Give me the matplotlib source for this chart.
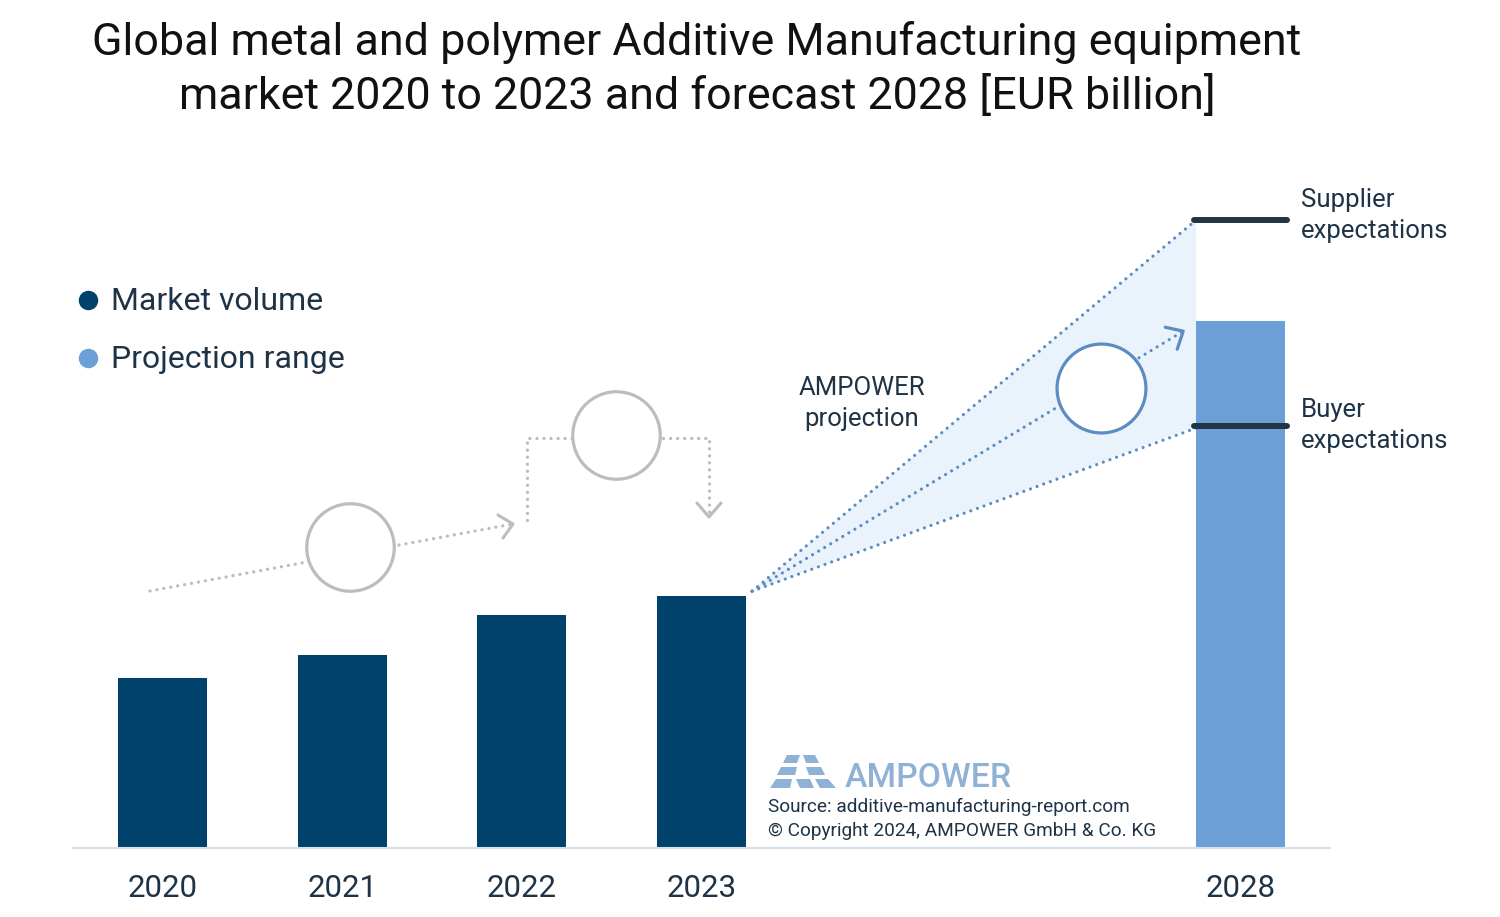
import matplotlib
matplotlib.use("Agg")
import matplotlib.pyplot as plt
from matplotlib.patches import Polygon

plt.rcParams['font.family'] = ['Roboto', 'DejaVu Sans']

# ---- data ----
years = ["2020", "2021", "2022", "2023", "2028"]
positions = [0, 1, 2, 3, 6]
market_volume = [2.13, 2.41, 2.91, 3.15]   # EUR billion (estimated)
projection_2028 = 6.59
supplier_expectation = 7.85
buyer_expectation = 5.27

DARK = "#00426B"
LIGHT = "#6C9FD6"
TXT = "#1F3347"
GRAY = "#BDBDBD"
BLUE = "#5B8CC2"
FILL = "#EAF2FB"

W, H = 1500, 917
fig = plt.figure(figsize=(15, 9.17), dpi=100)
ax = fig.add_axes([73 / W, 1 - 848 / H, (1330 - 73) / W, 698 / H])
XPX, YPX = 179.7, 80.0  # pixels per data unit
X0 = 162.5
ax.set_xlim(-(X0 - 73) / XPX, (1330 - X0) / XPX)
ax.set_ylim(0, 698 / YPX)

px = lambda v: (v - X0) / XPX
py = lambda v: (848 - v) / YPX

bw = 89 / XPX
ax.bar(positions[:4], market_volume, width=bw, color=DARK, zorder=2)
ax.bar(positions[4], projection_2028, width=bw, color=LIGHT, zorder=2)

# projection fan
apex = (positions[3] + bw / 2 + 6 / XPX, market_volume[3] + 0.06)
right_x = positions[4] - bw / 2
ax.add_patch(Polygon([apex, (right_x, supplier_expectation), (right_x, buyer_expectation)],
                     closed=True, facecolor=FILL, edgecolor="none", zorder=1))
dot_blue = dict(color=BLUE, lw=2.3, linestyle=(0, (0.01, 2.2)), dash_capstyle="round", zorder=3)
ax.plot([apex[0], right_x], [apex[1], supplier_expectation], **dot_blue)
ax.plot([apex[0], right_x], [apex[1], buyer_expectation - 0.02], **dot_blue)
mid_tip = (positions[4] - bw / 2 - 13 / XPX, 6.46)
ax.plot([apex[0], mid_tip[0]], [apex[1], mid_tip[1]], **dot_blue)
# arrow head on middle line
ax.plot([mid_tip[0] - 18 / XPX, mid_tip[0], mid_tip[0] - 6 / XPX],
        [mid_tip[1] + 4 / YPX, mid_tip[1], mid_tip[1] - 18 / YPX],
        color=BLUE, lw=2.3, solid_capstyle="round", solid_joinstyle="round", zorder=4)
# blue circle
ax.plot([px(1101)], [py(388)], marker="o", markersize=64,
        markerfacecolor="white", markeredgecolor=BLUE, markeredgewidth=2.3, zorder=5)

# supplier / buyer lines
for v in (supplier_expectation, buyer_expectation):
    ax.plot([positions[4] - bw / 2 - 2 / XPX, positions[4] + bw / 2 + 2 / XPX], [v, v],
            color="#213547", lw=4.3, solid_capstyle="round", zorder=4)

# gray flow arrows
dot_gray = dict(color=GRAY, lw=2.4, linestyle=(0, (0.01, 2.1)), dash_capstyle="round", zorder=3)
g0 = (px(150), py(591))
g1 = (px(513), py(524))
ax.plot([g0[0], g1[0]], [g0[1], g1[1]], **dot_gray)
ax.plot([g1[0] - 15 / XPX, g1[0], g1[0] - 10 / XPX],
        [g1[1] + 9 / YPX, g1[1], g1[1] - 14 / YPX],
        color=GRAY, lw=2.2, solid_capstyle="round", solid_joinstyle="round", zorder=4)
ax.plot([px(527), px(527), px(709), px(709)], [py(520), py(438), py(438), py(514)], **dot_gray)
ax.plot([px(697), px(709), px(721)], [py(503), py(517), py(503)],
        color=GRAY, lw=2.2, solid_capstyle="round", solid_joinstyle="round", zorder=4)
for cx, cy in ((350, 547), (616, 435)):
    ax.plot([px(cx)], [py(cy)], marker="o", markersize=63,
            markerfacecolor="white", markeredgecolor=GRAY, markeredgewidth=2.3, zorder=5)

# axes styling
for s in ("top", "right", "left"):
    ax.spines[s].set_visible(False)
ax.spines["bottom"].set_color("#D5E1EE")
ax.spines["bottom"].set_linewidth(1.5)
ax.spines["bottom"].set_zorder(6)
ax.set_yticks([])
ax.set_xticks(positions)
ax.set_xticklabels(years, fontsize=22.5, color=TXT)
ax.tick_params(axis="x", length=0, pad=19)

# texts
fig.text(697 / W, 1 - 43 / H, "Global metal and polymer Additive Manufacturing equipment",
         ha="center", va="center", fontsize=32.3, color="#111111")
fig.text(697 / W, 1 - 96 / H, "market 2020 to 2023 and forecast 2028 [EUR billion]",
         ha="center", va="center", fontsize=32.3, color="#111111")

# legend
fig.lines.append(plt.Line2D([88 / W], [1 - 300 / H], marker="o", markersize=13,
                            color=DARK, transform=fig.transFigure))
fig.lines.append(plt.Line2D([88 / W], [1 - 358 / H], marker="o", markersize=13,
                            color=LIGHT, transform=fig.transFigure))
fig.text(111 / W, 1 - 301 / H, "Market volume", ha="left", va="center", fontsize=23, color=TXT)
fig.text(111 / W, 1 - 359 / H, "Projection range", ha="left", va="center", fontsize=23, color=TXT)

fig.text(862 / W, 1 - 388 / H, "AMPOWER", ha="center", va="center", fontsize=18.5, color=TXT)
fig.text(862 / W, 1 - 419 / H, "projection", ha="center", va="center", fontsize=18.5, color=TXT)
fig.text(1301 / W, 1 - 200 / H, "Supplier", ha="left", va="center", fontsize=18.5, color=TXT)
fig.text(1301 / W, 1 - 231 / H, "expectations", ha="left", va="center", fontsize=18.5, color=TXT)
fig.text(1301 / W, 1 - 410 / H, "Buyer", ha="left", va="center", fontsize=18.5, color=TXT)
fig.text(1301 / W, 1 - 441 / H, "expectations", ha="left", va="center", fontsize=18.5, color=TXT)

# logo
LOGO = "#8EB1D6"
pieces = [
    [(787, 755), (800, 755), (797, 763), (783, 763)],
    [(803, 755), (815, 755), (819, 763), (806, 763)],
    [(781, 767), (797, 767), (795, 775), (777, 775)],
    [(806, 767), (821, 767), (825, 775), (809, 775)],
    [(776, 779), (792, 779), (790, 788), (770, 788)],
    [(796, 779), (810, 779), (814, 788), (800, 788)],
    [(815, 779), (828, 779), (836, 788), (820, 788)],
]
for pc in pieces:
    fig.patches.append(Polygon([(x / W, 1 - y / H) for x, y in pc], closed=True,
                               facecolor=LOGO, edgecolor="none", transform=fig.transFigure))
fig.text(845 / W, 1 - 778 / H, "AMPOWER", ha="left", va="center", fontsize=24.3,
         color=LOGO, fontweight="medium")
fig.text(768 / W, 1 - 807 / H, "Source: additive-manufacturing-report.com",
         ha="left", va="center", fontsize=13.7, color=TXT)
fig.text(768 / W, 1 - 831 / H, "\u00a9 Copyright 2024, AMPOWER GmbH & Co. KG",
         ha="left", va="center", fontsize=13.7, color=TXT)

fig.savefig("out.png", dpi=100, facecolor="white")
